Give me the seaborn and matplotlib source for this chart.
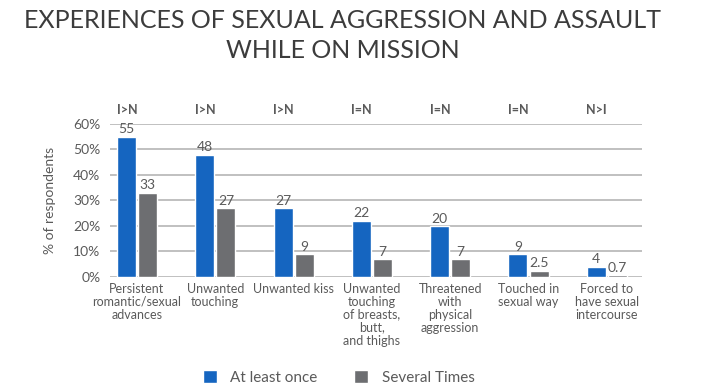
import matplotlib
matplotlib.use("Agg")
import matplotlib.pyplot as plt
import seaborn as sns
import pandas as pd

categories = ["Persistent\nromantic/sexual\nadvances", "Unwanted\ntouching", "Unwanted kiss",
              "Unwanted\ntouching\nof breasts,\nbutt,\nand thighs", "Threatened\nwith\nphysical\naggression",
              "Touched in\nsexual way", "Forced to\nhave sexual\nintercourse"]
at_least_once = [55, 48, 27, 22, 20, 9, 4]
several_times = [33, 27, 9, 7, 7, 2.5, 0.7]
comparisons = ["I>N", "I>N", "I>N", "I=N", "I=N", "I=N", "N>I"]
series_names = ["At least once", "Several Times"]
yticks = [0, 10, 20, 30, 40, 50, 60]

sns.set_theme(style="white")
plt.rcParams['font.family'] = ['Lato', 'DejaVu Sans']

df = pd.DataFrame({
    "Category": categories * 2,
    "Value": at_least_once + several_times,
    "Frequency": [series_names[0]] * len(categories) + [series_names[1]] * len(categories),
})

blue = "#1565c0"
gray = "#6d6e71"
txt = "#5a5a5a"

fig = plt.figure(figsize=(7.17, 3.91), dpi=100)
ax = fig.add_axes([0.1534, 0.2916, 0.742, 0.3913])
sns.barplot(data=df, x="Category", y="Value", hue="Frequency", palette=[blue, gray],
            width=0.54, gap=0.1, saturation=1, ax=ax, legend=True)

ax.set_ylim(0, 60)
ax.set_xlim(-0.345, 6.45)
ax.set_yticks(yticks)
ax.set_yticklabels([f"{t}%" for t in yticks], color=txt, fontsize=10)
ax.yaxis.grid(True, color="#b5b5b5", linewidth=1.2)
ax.set_axisbelow(True)
for s in ax.spines.values():
    s.set_visible(False)
ax.tick_params(axis="x", length=0, pad=4)
ax.tick_params(axis="y", length=0, pad=7)
ax.set_xticks(range(len(categories)))
ax.set_xticklabels(categories, color=txt, fontsize=9, linespacing=1.1, va="top")
ax.set_xlabel("")
ax.set_ylabel("% of respondents", color=txt, fontsize=10, labelpad=12)

for cont, labs in zip(ax.containers, [at_least_once, several_times]):
    ax.bar_label(cont, labels=[f"{v:g}" for v in labs], color=txt, fontsize=10, padding=1)

for i, c in enumerate(comparisons):
    ax.text(i - 0.13, 65.5, c, ha="center", va="center", fontsize=9, color=txt,
            fontweight="bold", clip_on=False)

leg = ax.legend(loc="center", bbox_to_anchor=(0.43, -0.655), ncol=2, frameon=False,
                handlelength=0.9, handleheight=0.9, columnspacing=2.4, handletextpad=0.9,
                fontsize=11)
for t in leg.get_texts():
    t.set_color(txt)

fig.text(0.478, 0.947, "EXPERIENCES OF SEXUAL AGGRESSION AND ASSAULT", ha="center", va="center",
         fontsize=18, color="#3c3c3c", fontweight="normal")
fig.text(0.478, 0.872, "WHILE ON MISSION", ha="center", va="center",
         fontsize=18, color="#3c3c3c", fontweight="normal")

fig.savefig("out.png", dpi=100, facecolor="white")
